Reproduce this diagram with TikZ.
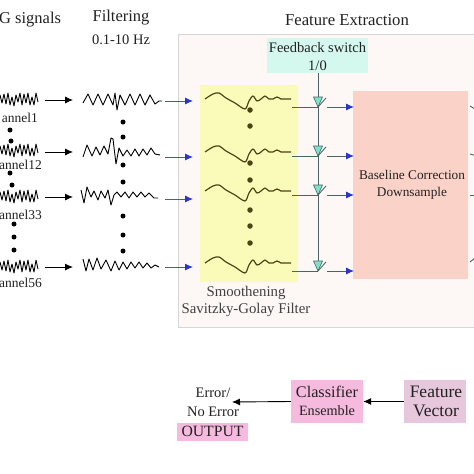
\documentclass[tikz,border=0pt]{standalone}
\usepackage{fontspec}
\setmainfont{Liberation Serif}
\usetikzlibrary{arrows.meta}
\definecolor{outerfill}{HTML}{FDF8F6}
\definecolor{outerdraw}{HTML}{D6D6D6}
\definecolor{yellowbox}{HTML}{FBFBB9}
\definecolor{cyanbox}{HTML}{D4F7EE}
\definecolor{salmonbox}{HTML}{FAD2C8}
\definecolor{lilacbox}{HTML}{E6C7DC}
\definecolor{pinkbox}{HTML}{F5BADD}
\definecolor{olive}{HTML}{4B4415}
\definecolor{slate}{HTML}{4A6660}
\definecolor{trifill}{HTML}{7FE0CC}
\definecolor{arrowblue}{HTML}{2A35D0}
\definecolor{txt}{HTML}{222222}
\tikzset{
  sig/.style={draw=black, line width=0.9pt, line join=round},
  smoothsig/.style={draw=olive, line width=1.2pt, line join=round},
  dotdot/.style={fill=black, draw=none, circle, minimum size=5pt, inner sep=0pt},
  olivedot/.style={fill=olive, draw=none, circle, minimum size=5.5pt, inner sep=0pt},
  blackarr/.style={draw=black, line width=0.9pt, -{Latex[length=8pt,width=7pt]}},
  bluearr/.style={draw=slate, line width=0.9pt, -{Latex[length=8pt,width=7pt,color=arrowblue,fill=arrowblue]}},
  swline/.style={draw=slate, line width=0.9pt},
  tri/.style={draw=slate, fill=trifill, line width=0.6pt},
  lbl/.style={text=txt, font=\fontsize{13.5}{15}\selectfont, inner sep=0pt},
  rawsig/.pic={\draw[sig] (-3,0) -- (0,-5) -- (2,3) -- (4,-6) -- (6,4) -- (8,-7) -- (10,5) -- (12,-3) -- (14,6) -- (16,-5) -- (18,2) -- (20,-7) -- (22,5) -- (24,-6) -- (26,3) -- (28,-7) -- (30,5) -- (32,-3) -- (34,5) -- (36,-7) -- (38,2);},
  smsig/.pic={\draw[smoothsig] plot[smooth, tension=0.5] coordinates {(0,4) (8,-1) (14,-2) (21,3) (30,8) (40,14) (44,6) (48,1) (52,6) (56,4) (60,1) (64,4) (68,4) (72,2) (76,4) (80,4) (86,4)};},
}
\begin{document}
\begin{tikzpicture}[x=1pt,y=-1pt]
\useasboundingbox (0,0) rectangle (474,474);
\clip (0,0) rectangle (474,474);
\fill[white] (0,0) rectangle (474,474);

% titles
\node[lbl, font=\fontsize{16.5}{18}\selectfont, anchor=west] (eegt) at (-1,20) {G signals};
\node[lbl, font=\fontsize{16.5}{18}\selectfont] (filt) at (121,18) {Filtering};
\node[lbl, font=\fontsize{14.5}{16}\selectfont] (filtf) at (121,40) {0.1-10 Hz};
\node[lbl, font=\fontsize{16.7}{18}\selectfont] (fet) at (347,20) {Feature Extraction};

% outer feature extraction box
\node[draw=outerdraw, fill=outerfill, line width=0.8pt, minimum width=320pt, minimum height=293pt, anchor=north west, inner sep=0pt] (outer) at (178,34) {};
% smoothening box
\node[fill=yellowbox, minimum width=98pt, minimum height=197pt, anchor=north west, inner sep=0pt] (yel) at (200,85) {};
% baseline box
\node[fill=salmonbox, minimum width=115pt, minimum height=188pt, anchor=north west, inner sep=0pt] (sal) at (353,91) {};
\node[lbl, font=\fontsize{13.3}{15}\selectfont] (salt1) at (412,175) {Baseline Correction};
\node[lbl, font=\fontsize{13.3}{15}\selectfont] (salt2) at (412,193) {Downsample};
% feedback switch
\node[fill=cyanbox, minimum width=101pt, minimum height=35pt, anchor=north west, inner sep=0pt] (fb) at (267,38) {};
\node[lbl, font=\fontsize{14.5}{16}\selectfont] (fbt1) at (317.5,48) {Feedback switch};
\node[lbl, font=\fontsize{14.5}{16}\selectfont] (fbt2) at (317.5,66) {1/0};

% smoothening labels
\node[lbl, text=black!75, font=\fontsize{14.8}{16}\selectfont] (sm1) at (246,293) {Smoothening};
\node[lbl, text=black!75, font=\fontsize{14.8}{16}\selectfont] (sm2) at (246,310) {Savitzky-Golay Filter};

% channel labels (cut at the left edge in the picture)
\node[lbl, anchor=east] (c1) at (38,118) {annel1};
\node[lbl, anchor=east] (c12) at (42,165) {annel12};
\node[lbl, anchor=east] (c33) at (42,215) {annel33};
\node[lbl, anchor=east] (c56) at (42,283) {annel56};

% raw signals
\pic at (0,100) {rawsig};
\pic at (0,151) {rawsig};
\pic at (0,197) {rawsig};
\pic at (0,267) {rawsig};

% raw column dots
\foreach \yy/\xx in {130/10,141/11,173/10,185/12,224/14,237/14,250/14} \node[dotdot] at (\xx,\yy) {};

% filtered signals
\draw[sig] (83,103) -- ++(5,-9) -- ++(5,11) -- ++(5,-11) -- ++(5,11) -- ++(5,-11) -- ++(5,11) -- ++(2,-12) -- ++(2,17) -- ++(3,-15) -- ++(5,10) -- ++(5,-11) -- ++(5,11) -- ++(5,-11) -- ++(5,11) -- ++(5,-10) -- ++(5,9) -- ++(4,-3) -- ++(3,0);
\draw[sig] (83,157) -- ++(4,-12) -- ++(5,11) -- ++(4,-9) -- ++(4,8) -- ++(4,-9) -- ++(4,8) -- ++(3,-16) -- ++(2,1) -- ++(3,25) -- ++(3,-16) -- ++(4,8) -- ++(4,-6) -- ++(4,6) -- ++(4,-7) -- ++(4,7) -- ++(4,-7) -- ++(4,6) -- ++(4,-7) -- ++(4,6) -- ++(5,1);
\draw[sig] (81,190) -- ++(3,13) -- ++(3,-16) -- ++(4,10) -- ++(3,-6) -- ++(4,9) -- ++(3,-9) -- ++(4,7) -- ++(3,-8) -- ++(3,15) -- ++(3,-10) -- ++(3,-3) -- ++(4,5) -- ++(4,-5) -- ++(4,6) -- ++(4,-6) -- ++(4,5) -- ++(4,-5) -- ++(4,5) -- ++(4,-4) -- ++(5,5) -- ++(4,0);
\draw[sig] (83,259) -- ++(3,12) -- ++(3,-12) -- ++(4,11) -- ++(4,-12) -- ++(4,11) -- ++(5,-9) -- ++(5,11) -- ++(4,-10) -- ++(4,9) -- ++(4,-8) -- ++(4,7) -- ++(4,-7) -- ++(4,6) -- ++(4,-6) -- ++(4,6) -- ++(4,-5) -- ++(4,5) -- ++(4,-3) -- ++(4,2);

% filtered column dots
\foreach \yy in {122,137,165,182,216,235,251} \node[dotdot] at (123,\yy) {};

% arrow endpoints
\foreach \n/\yy in {1/100,2/152,3/197,4/267}{
  \coordinate (ra\n) at (45,\yy);
  \coordinate (rb\n) at (73,\yy);
}
\foreach \n/\yy in {1/101,2/157,3/199,4/267}{
  \coordinate (ba\n) at (165,\yy);
  \coordinate (bb\n) at (193,\yy);
}
\foreach \n in {1,2,3,4}{
  \draw[blackarr] (ra\n) -- (rb\n);
  \draw[bluearr] (ba\n) -- (bb\n);
}

% smoothed signals
\pic at (205,95) {smsig};
\pic at (205,148) {smsig};
\pic at (205,187) {smsig};
\pic at (205,259) {smsig};
\foreach \yy in {110,126,163,180,210,226,243} \node[olivedot] at (250,\yy) {};

% switch column
\coordinate (swtop) at (318,73);
\coordinate (swbot) at (318,271);
\draw[swline] (swtop) -- (swbot);
\foreach \n/\yy in {1/107,2/156,3/195,4/271}{
  \coordinate (sa\n) at (292,\yy);
  \coordinate (sb\n) at (318,\yy);
  \coordinate (sc\n) at (326,\yy-9);
  \coordinate (oa\n) at (327,\yy);
  \coordinate (ob\n) at (354,\yy);
  \draw[swline] (sa\n) -- (sb\n);
  \draw[tri] (313.5,\yy-10) -- (322.5,\yy-10) -- (318,\yy) -- cycle;
  \draw[swline] (sb\n) -- (sc\n);
  \draw[bluearr] (oa\n) -- (ob\n);
}

% outgoing lines at right edge
\coordinate (x1a) at (470,106); \coordinate (x1b) at (480,112);
\coordinate (x2a) at (470,154); \coordinate (x2b) at (480,157);
\coordinate (x3a) at (470,195); \coordinate (x3b) at (480,195);
\coordinate (x4a) at (470,262); \coordinate (x4b) at (480,254);
\foreach \n in {1,2,3,4} \draw[swline] (x\n a) -- (x\n b);

% bottom row
\node[fill=lilacbox, minimum width=62pt, minimum height=43pt, inner sep=0pt] (fv) at (435,401.5) {};
\node[lbl, font=\fontsize{17.5}{19}\selectfont] (fvt1) at (436,392) {Feature};
\node[lbl, font=\fontsize{17.5}{19}\selectfont] (fvt2) at (436,411) {Vector};
\node[fill=pinkbox, minimum width=72pt, minimum height=43pt, inner sep=0pt] (ce) at (327,401.5) {};
\node[lbl, font=\fontsize{16.2}{18}\selectfont] (ce1) at (327,392) {Classifier};
\node[lbl, font=\fontsize{14.2}{16}\selectfont] (ce2) at (327,411) {Ensemble};
\node[lbl, font=\fontsize{14.5}{16}\selectfont] (err1) at (213,393) {Error/};
\node[lbl, font=\fontsize{14.5}{16}\selectfont] (err2) at (213,412) {No Error};
\node[fill=pinkbox, minimum width=71pt, minimum height=18pt, inner sep=0pt, text=txt, font=\fontsize{15.7}{17}\selectfont] (out) at (212.5,431.5) {OUTPUT};
\coordinate (errend) at (232,402);
\draw[draw=black, line width=0.9pt, -{Latex[length=8pt,width=7pt]}] (fv.west) -- (ce.east);
\draw[draw=black, line width=0.9pt, -{Latex[length=8pt,width=7pt]}] (ce.west) -- (errend);
\end{tikzpicture}
\end{document}
